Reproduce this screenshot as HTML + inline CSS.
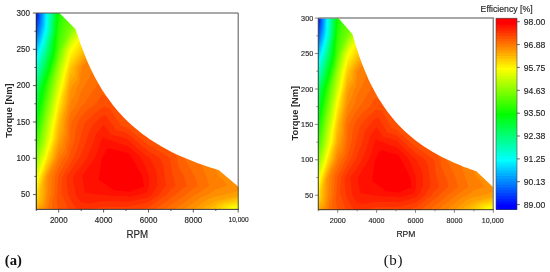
<!DOCTYPE html>
<html><head><meta charset="utf-8"><title>Efficiency maps</title>
<style>html,body{margin:0;padding:0;background:#fff}svg{display:block}</style></head>
<body>
<svg width="550" height="272" viewBox="0 0 550 272">
<rect width="550" height="272" fill="#fff"/>
<g>
<rect x="36.3" y="13.0" width="201.9" height="196.1" fill="#0010ff"/>
<path fill="#0020ff" fill-rule="evenodd" d="M36.3 209.1 238.2 209.1 238.2 13.0 37.1 13.0 36.8 15.0 36.3 16.8Z"/>
<path fill="#0030ff" fill-rule="evenodd" d="M36.3 209.1 238.2 209.1 238.2 13.0 37.7 13.0 37.4 16.0 36.3 20.7Z"/>
<path fill="#0040ff" fill-rule="evenodd" d="M36.3 209.1 238.2 209.1 238.2 13.0 38.4 13.0 38.1 17.0 36.3 24.6Z"/>
<path fill="#0050ff" fill-rule="evenodd" d="M36.3 209.1 238.2 209.1 238.2 13.0 39.1 13.0 38.8 17.5 36.3 28.6Z"/>
<path fill="#0060ff" fill-rule="evenodd" d="M36.3 209.1 238.2 209.1 238.2 13.0 39.7 13.0 39.3 19.0 36.8 30.8 36.3 32.1Z"/>
<path fill="#0070ff" fill-rule="evenodd" d="M36.3 209.1 238.2 209.1 238.2 13.0 40.4 13.0 39.9 20.0 37.5 31.5 36.3 34.6Z"/>
<path fill="#0080ff" fill-rule="evenodd" d="M36.3 209.1 238.2 209.1 238.2 13.0 41.1 13.0 40.5 21.0 38.2 32.0 37.3 34.8 36.3 37.2Z"/>
<path fill="#008fff" fill-rule="evenodd" d="M36.3 209.1 238.2 209.1 238.2 13.0 41.8 13.0 41.4 20.5 41.1 22.5 38.5 34.0 36.3 39.7Z"/>
<path fill="#009fff" fill-rule="evenodd" d="M36.3 209.1 238.2 209.1 238.2 13.0 42.4 13.0 42 21.5 41.7 23.5 40.1 31.0 39 35.0 36.3 42.3Z"/>
<path fill="#00afff" fill-rule="evenodd" d="M36.3 209.1 238.2 209.1 238.2 13.0 43.1 13.0 42.5 23.0 41 30.5 39.5 36.5 36.3 44.8Z"/>
<path fill="#00bfff" fill-rule="evenodd" d="M36.3 209.1 238.2 209.1 238.2 13.0 43.8 13.0 43.2 24.0 41.8 30.5 40 37.5 36.3 47.4Z"/>
<path fill="#00cfff" fill-rule="evenodd" d="M36.3 209.1 238.2 209.1 238.2 13.0 44.4 13.0 43.8 24.9 42.7 30.5 40.6 38.5 36.3 50.0Z"/>
<path fill="#00dfff" fill-rule="evenodd" d="M36.3 209.1 238.2 209.1 238.2 13.0 45.1 13.0 44.4 26.0 43.4 31.0 41.2 39.5 36.3 52.9Z"/>
<path fill="#00efff" fill-rule="evenodd" d="M36.3 209.1 238.2 209.1 238.2 13.0 45.8 13.0 45.1 26.5 44.2 31.0 41.8 40.3 36.3 55.7Z"/>
<path fill="#00ffff" fill-rule="evenodd" d="M36.3 209.1 238.2 209.1 238.2 13.0 46.5 13.0 45.7 27.5 45.1 31.0 42.3 41.5 36.3 58.5Z"/>
<path fill="#00ffef" fill-rule="evenodd" d="M36.3 209.1 238.2 209.1 238.2 13.0 47.1 13.0 46.3 28.5 45.9 31.0 43 42.0 36.3 61.4Z"/>
<path fill="#00ffdf" fill-rule="evenodd" d="M36.3 209.1 238.2 209.1 238.2 13.0 47.8 13.0 47 29.0 46.7 31.0 43.6 43.0 36.3 64.2Z"/>
<path fill="#00ffcf" fill-rule="evenodd" d="M36.3 209.1 238.2 209.1 238.2 13.0 48.5 13.0 47.6 30.0 47.3 32.0 44.2 44.0 36.3 67.1Z"/>
<path fill="#00ffbf" fill-rule="evenodd" d="M36.3 209.1 238.2 209.1 238.2 13.0 49.2 13.0 48.2 30.5 47.8 33.0 44.8 44.8 36.9 68.5 36.3 69.9Z"/>
<path fill="#00ffaf" fill-rule="evenodd" d="M36.3 209.1 238.2 209.1 238.2 13.0 49.9 13.0 48.9 31.0 47.8 36.2 45.3 46.0 37.6 69.5 36.3 72.8Z"/>
<path fill="#00ff9f" fill-rule="evenodd" d="M36.3 209.1 238.2 209.1 238.2 13.0 50.5 13.0 49.5 31.0 47.8 39.4 45.9 47.0 42.4 57.5 38.3 70.5 36.3 75.6Z"/>
<path fill="#00ff8f" fill-rule="evenodd" d="M36.3 209.1 238.2 209.1 238.2 13.0 51.2 13.0 50.2 31.0 47.8 42.6 46.6 47.5 39.2 71.0 36.3 78.5Z"/>
<path fill="#00ff80" fill-rule="evenodd" d="M36.3 209.1 238.2 209.1 238.2 13.0 51.9 13.0 50.9 31.0 47.8 45.8 47 49.0 39.7 72.5 36.3 81.3Z"/>
<path fill="#00ff70" fill-rule="evenodd" d="M36.3 209.1 238.2 209.1 238.2 13.0 52.6 13.0 51.5 31.0 47.7 49.5 40.3 73.7 36.3 84.1Z"/>
<path fill="#00ff60" fill-rule="evenodd" d="M36.3 209.1 238.2 209.1 238.2 13.0 53.3 13.0 52.2 31.0 49.2 45.5 48.5 50.0 41 74.5 37.2 85.0 36.3 88.0Z"/>
<path fill="#00ff50" fill-rule="evenodd" d="M36.3 209.1 238.2 209.1 238.2 13.0 54 13.0 52.9 31.0 50.1 44.5 49.2 50.5 47.3 57.4 41.7 75.5 38 85.5 36.3 93.1Z"/>
<path fill="#00ff40" fill-rule="evenodd" d="M36.3 209.1 238.2 209.1 238.2 13.0 54.7 13.0 53.6 31.0 51 43.5 50.2 50.0 49.5 53.0 42.5 76.0 39.1 85.5 36.3 98.2Z"/>
<path fill="#00ff30" fill-rule="evenodd" d="M36.3 209.1 238.2 209.1 238.2 13.0 55.3 13.0 54.2 31.0 52 42.0 51 50.0 50.1 54.0 46.8 65.4 42.9 78.0 40.1 85.5 36.3 103.4Z"/>
<path fill="#00ff20" fill-rule="evenodd" d="M36.3 209.1 238.2 209.1 238.2 13.0 56 13.0 54.9 31.0 53 40.5 51.9 50.0 50.8 55.0 47.3 67.0 43.6 79.0 41.2 85.5 36.3 108.5Z"/>
<path fill="#00ff10" fill-rule="evenodd" d="M36.3 209.1 238.2 209.1 238.2 13.0 56.7 13.0 55.6 31.0 54 39.0 52.8 50.0 51.4 56.0 47.8 68.5 44.3 79.9 42.1 86.0 36.8 111.8 36.3 113.6Z"/>
<path fill="#00ff00" fill-rule="evenodd" d="M36.3 209.1 238.2 209.1 238.2 13.0 57.4 13.0 56.2 31.0 54.9 38.0 53.6 50.0 51.8 58.0 46.8 75.0 43.2 86.0 37.3 114.5 36.3 118.7Z"/>
<path fill="#10ff00" fill-rule="evenodd" d="M36.3 209.1 238.2 209.1 238.2 13.0 58.1 13.0 56.9 31.0 55.9 36.5 54.6 49.5 52.6 58.5 47.3 76.6 44.2 86.0 37.3 119.6 36.3 123.8Z"/>
<path fill="#20ff00" fill-rule="evenodd" d="M36.3 209.1 238.2 209.1 238.2 13.0 67.8 13.0 66.8 15.3 66.3 15.5 65.7 15.5 60.8 13.3 59.8 13.0 59.3 13.1 58.8 14.9 57.6 31.0 56.9 35.0 55.4 49.5 53.2 59.5 47.8 78.1 45.3 86.0 37.3 124.8 36.3 128.9Z"/>
<path fill="#30ff00" fill-rule="evenodd" d="M36.3 209.1 238.2 209.1 238.2 13.0 68.5 13.0 66.8 16.5 62.8 15.2 61.8 15.2 61.2 15.5 60.8 16.0 60.3 17.4 59.3 21.8 58.8 25.1 56.2 50.0 53.8 60.5 46.3 86.0 37.3 129.9 36.3 134.0Z"/>
<path fill="#40ff00" fill-rule="evenodd" d="M36.3 209.1 238.2 209.1 238.2 13.0 68.8 13.0 67.5 15.5 67.3 16.6 66.8 17.0 64.8 16.8 64.3 17.0 62.8 18.5 62.2 19.5 59.3 31.8 58.3 38.3 57 50.0 54.6 61.0 47.4 86.0 37.3 135.0 36.3 139.1Z"/>
<path fill="#50ff00" fill-rule="evenodd" d="M36.3 209.1 238.2 209.1 238.2 13.0 69 13.0 67.7 15.5 67.4 17.5 67.7 18.0 67.4 18.5 64.4 21.5 64.1 22.0 61.9 31.0 59.3 40.3 58.8 42.8 58 49.5 55.5 61.0 48.8 84.5 37.4 140.1 36.3 143.1Z"/>
<path fill="#60ff00" fill-rule="evenodd" d="M36.3 209.1 238.2 209.1 238.2 13.0 69.2 13.0 67.8 16.0 67.8 17.0 69.9 18.5 70.8 19.5 66.3 24.2 65.8 25.0 64.1 32.0 60.2 45.5 58.9 49.5 55.9 63.0 50.7 81.0 46.8 99.1 38.5 140.1 37.5 143.6 36.3 146.8Z"/>
<path fill="#70ff00" fill-rule="evenodd" d="M36.3 209.1 238.2 209.1 238.2 13.0 69.7 13.0 68.3 15.8 68.3 16.7 71.3 18.5 72.8 19.1 74 20.0 74.3 20.5 74.1 21.0 67.7 27.5 64.3 39.6 60 49.5 58.8 53.9 56.5 64.0 52.3 79.0 46.8 104.2 41.2 131.6 39.6 140.1 38.4 144.6 36.3 150.4Z"/>
<path fill="#80ff00" fill-rule="evenodd" d="M36.3 209.1 238.2 209.1 238.2 13.0 128.2 13.0 125.8 13.7 125.2 14.0 123.8 14.2 121.7 15.0 120.8 15.2 120.2 15.5 119.3 15.7 118.7 16.0 117.8 16.2 117.2 16.5 116.3 16.7 115.7 17.0 114.8 17.2 114.2 17.5 113.3 17.7 112.7 18.0 111.3 18.2 109.2 19.0 108.3 19.2 107.7 19.5 106.8 19.7 106.2 20.0 105.3 20.2 104.7 20.5 103.8 20.7 103.2 21.0 102.3 21.2 101.7 21.5 100.8 21.7 100.2 22.0 98.8 22.2 96.7 23.0 95.8 23.2 95.2 23.5 94.3 23.7 93.7 24.0 92.8 24.2 92.2 24.5 91.3 24.7 90.7 25.0 89.8 25.2 89.2 25.5 87.8 25.7 87.2 26.0 86.3 26.2 85.7 26.5 82.3 27.5 76.8 22.8 76.3 22.5 75.8 22.5 69.4 30.5 67.3 36.0 61.1 49.5 58.8 57.8 57.1 65.0 54 76.5 46.8 109.3 42.6 129.6 40.7 140.1 39.3 145.6 36.3 154.1Z"/>
<path fill="#8fff00" fill-rule="evenodd" d="M36.3 209.1 238.2 209.1 238.2 13.0 128.6 13.0 124.8 14.3 123.8 14.4 112.8 18.2 111.3 18.5 100.3 22.2 98.8 22.5 89.3 25.7 87.8 26.0 83.2 27.5 82.6 28.0 82.5 28.5 82.3 28.7 77.3 24.5 76.8 24.2 76.3 24.3 69.8 33.2 62.3 49.5 61.3 53.5 58.8 61.7 55.8 73.5 46.8 114.4 44.2 127.1 41.7 140.6 40 147.1 36.3 157.7Z"/>
<path fill="#9fff00" fill-rule="evenodd" d="M36.3 209.1 238.2 209.1 238.2 13.0 129.2 13.0 124.8 14.5 123.8 14.6 112.3 18.5 111.3 18.6 99.8 22.5 98.8 22.6 88.8 26.0 87.8 26.1 83.3 27.7 82.9 28.0 83 28.5 89.3 35.0 90.5 36.5 90.3 36.8 78.3 26.6 77.3 26.0 76.8 26.1 69.8 35.7 63.4 49.5 62 55.0 59.3 63.9 57.4 71.0 46.8 119.5 42.9 140.6 40.8 148.3 37.4 158.6 36.3 161.0ZM90.6 37.0 90.8 36.8 90.9 37.0 90.8 37.2Z"/>
<path fill="#afff00" fill-rule="evenodd" d="M36.3 209.1 238.2 209.1 238.2 13.0 129.5 13.0 125.3 14.5 123.8 14.7 112.8 18.5 111.3 18.7 100.3 22.5 98.8 22.7 89.3 26.0 87.8 26.2 84.8 27.2 83.1 28.0 83.7 29.0 94.3 39.9 98.4 44.5 98.3 44.9 78.8 28.3 77.8 27.7 77.3 27.9 69.8 38.1 64.5 49.5 62.8 56.5 59.4 67.5 51.5 103.1 50.4 109.1 47.3 122.1 44 140.6 41.6 149.6 38 160.1 36.3 164.2ZM98.5 45.0 98.9 45.0 98.8 45.2Z"/>
<path fill="#bfff00" fill-rule="evenodd" d="M36.3 209.1 238.2 209.1 238.2 13.0 129.8 13.0 125.3 14.6 123.8 14.8 112.8 18.6 111.3 18.8 100.3 22.6 98.8 22.8 89.3 26.1 87.8 26.3 83.3 28.0 83.4 28.5 103.3 49.0 106.4 52.5 106.3 53.0 79.3 30.0 78.3 29.5 77.8 29.8 70.3 39.7 69.3 41.5 65.6 49.5 63.7 57.5 60.6 67.5 58.3 77.4 52.5 103.6 51.3 110.3 48.5 122.1 45.1 140.6 42.3 151.1 38.7 161.6 36.3 167.4ZM107 53.5 107.3 53.5 107.3 53.8ZM106.3 53.0 106.8 52.9 106.9 53.0 106.8 53.4Z"/>
<path fill="#cfff00" fill-rule="evenodd" d="M36.3 209.1 238.2 209.1 238.2 13.0 129.9 13.0 125.3 14.7 123.8 14.9 112.8 18.7 111.3 18.9 100.3 22.7 98.8 23.0 89.3 26.2 87.8 26.5 84.8 27.5 83.5 28.0 83.6 28.5 110.8 56.5 111.8 57.3 112.3 57.5 115.3 60.5 118.4 64.0 118.3 64.5 79.8 31.7 78.8 31.2 78.3 31.6 70.3 42.1 66.8 49.5 64.6 58.5 61.8 67.5 58.3 82.5 53.6 103.6 52.2 111.6 49.7 122.1 46.3 140.6 42.8 153.1 39.4 163.1 36.3 170.6ZM119 65.0 119.3 65.0 119.3 65.3ZM118.3 64.5 118.8 64.4 118.8 64.9Z"/>
<path fill="#dfff00" fill-rule="evenodd" d="M36.3 209.1 238.2 209.1 238.2 13.0 130.1 13.0 129.8 13.3 125.3 14.9 124 15.0 112.8 18.9 111.5 19.0 100.3 22.9 99 23.0 89.3 26.4 88 26.5 83.8 28.0 83.8 28.5 94.3 39.2 95.8 41.0 111 56.5 112.8 57.8 123.3 68.5 127.4 73.0 127.3 73.4 79.8 33.1 79.3 33.0 78.8 33.4 70.3 44.6 67.9 49.5 65.3 60.0 62.8 68.5 58.8 85.4 54.8 103.6 53.2 112.6 50.9 122.1 47.4 140.6 44.2 152.6 39.9 165.1 36.3 173.8ZM128.1 74.0 128.3 74.0 128.3 74.2ZM127.4 73.5 127.9 73.5 127.8 73.8Z"/>
<path fill="#efff00" fill-rule="evenodd" d="M36.3 209.1 238.2 209.1 238.2 13.0 130.2 13.0 129.8 13.5 125.3 15.0 124.3 15.1 112.8 19.0 111.8 19.1 100.3 23.0 99.3 23.1 84.2 28.0 84 28.5 94.3 39.0 95.4 40.5 111.1 56.5 112.8 57.6 131.8 77.0 135.9 81.5 135.7 82.0 80.8 35.1 80.3 34.8 79.8 34.8 79.3 35.3 70.3 47.0 69 49.5 66.2 61.0 64.1 68.0 58.3 92.7 55.9 103.6 53.9 114.6 52 122.6 48.9 140.1 44.9 154.1 40.8 165.9 36.3 177.3ZM136.5 82.5 136.8 82.5 136.7 82.7ZM135.9 82.0 136.2 81.9 136.4 82.0 136.2 82.3Z"/>
<path fill="#ffff00" fill-rule="evenodd" d="M36.3 209.1 234.1 209.1 234.5 208.6 235.4 208.1 238.2 207.5 238.2 13.0 130.4 13.0 129.8 13.7 125.3 15.2 123.8 15.4 112.8 19.2 111.3 19.4 100.3 23.2 98.8 23.4 89.3 26.7 87.8 26.9 84.6 28.0 84.2 28.5 94.6 39.0 95.6 40.5 111.3 56.5 112.8 57.5 141.2 86.5 144.9 90.6 144.7 90.9 81.8 37.3 80.8 36.5 80.3 36.6 71.8 47.5 70.3 49.9 69.8 51.2 67 62.5 65.3 68.0 61.4 85.5 57.2 102.6 54.9 115.6 53.4 122.1 51.3 132.9 50.2 140.1 47.8 147.8 45.3 156.6 41.8 166.6 38 176.1 36.3 182.4ZM145 91.1 145.3 91.1 145.2 91.3Z"/>
<path fill="#ffef00" fill-rule="evenodd" d="M36.3 209.1 229.3 209.1 231.9 207.1 238.2 205.6 238.2 13.0 130.7 13.0 130.6 13.5 130.3 13.9 128.8 14.4 128 14.5 125.8 15.4 123 16.0 113.3 19.4 110.5 20.0 100.8 23.4 98 24.0 89.8 26.9 87.1 27.5 86.3 27.9 85.3 28.1 84.8 28.5 95.1 39.0 95.3 40.0 104.4 49.5 111.3 56.4 112.9 57.5 148.7 94.0 150.7 95.4 157.4 102.6 157.2 102.8 82.3 39.0 81.3 38.3 80.8 38.4 78.9 41.0 70.3 54.6 69.8 55.9 66.7 67.5 64.7 76.0 62.7 85.5 58.2 103.6 55.8 116.8 54.6 122.1 53 130.6 51.6 140.1 46 158.1 42.5 168.1 39.1 176.6 36.3 187.5ZM157.5 103.1 157.8 103.1 157.7 103.2Z"/>
<path fill="#ffdf00" fill-rule="evenodd" d="M36.3 209.1 224.6 209.1 227.7 206.6 228.7 206.0 238.2 203.7 238.2 13.0 166.1 13.0 160.7 14.9 159.2 15.7 156.7 16.4 155.2 17.2 152.7 17.9 151.2 18.7 148.7 19.4 147.2 20.2 143.2 21.4 141.7 22.2 139.2 22.9 133.8 25.2 127.3 27.4 125.8 28.2 121.8 29.4 120.3 30.2 113.8 32.4 112.3 33.2 109.8 33.9 104.3 36.2 101.8 36.9 100.3 37.7 96.3 39.0 95.5 39.5 95.5 40.0 95.8 40.5 111.3 56.3 113 57.5 149 94.1 150.2 94.8 163.7 108.6 165.9 111.1 165.7 111.3 94.8 51.0 82.8 41.1 82.3 40.8 81.8 41.0 80.8 42.9 77.1 49.0 70.8 58.4 69.8 60.5 66.8 72.1 64 85.5 60.3 100.1 58.8 106.6 54.7 128.1 53 140.1 47.1 158.6 43.3 169.2 40.4 176.6 36.3 192.6ZM166 111.6 166.2 111.4 166.3 111.6 166.2 111.7Z"/>
<path fill="#ffcf00" fill-rule="evenodd" d="M36.3 209.1 219.9 209.1 225.2 205.0 238.2 201.9 238.2 13.0 167 13.0 164.7 13.7 163.2 14.5 160.7 15.2 159.2 16.0 156.7 16.7 155.2 17.5 152.7 18.2 151.2 19.0 148.7 19.7 147.2 20.5 143.2 21.7 141.7 22.5 139.2 23.2 137.7 24.0 135.2 24.7 133.8 25.5 131.3 26.2 129.8 27.0 127.3 27.7 125.8 28.5 121.8 29.7 120.3 30.5 117.8 31.2 116.3 32.0 113.8 32.7 112.3 33.5 109.8 34.2 108.3 35.0 105.8 35.7 104.3 36.5 101.8 37.2 100.3 38.0 96.3 39.2 95.8 39.6 95.6 40.0 96 40.5 103.4 48.0 104.6 49.5 111.3 56.2 113.1 57.5 149.2 94.1 150.7 95.1 172.7 117.6 174.9 120.1 174.7 120.3 116.7 71.0 84.3 44.1 83.3 43.4 82.8 43.5 81.3 47.1 80.3 49.0 70.3 63.9 69.1 67.5 65.3 85.5 62.1 98.1 61.2 104.1 58.8 113.0 56.3 126.1 54.3 140.1 50.2 153.1 48.8 158.1 47.3 161.4 41.7 176.6 38.2 190.6 37.5 195.6 37.1 196.6 36.3 197.4ZM175.1 120.6 175.2 120.4 175.3 120.6Z"/>
<path fill="#ffbf00" fill-rule="evenodd" d="M36.3 209.1 215 209.1 221.2 204.4 222.2 203.8 238.2 199.8 238.2 13.0 167.4 13.0 165.7 13.8 164.7 14.0 163.2 14.8 160.7 15.5 159.2 16.3 156.7 17.0 155.2 17.8 152.7 18.5 151.2 19.3 148.7 20.0 147.2 20.8 143.2 22.0 141.7 22.8 139.2 23.5 137.7 24.3 135.2 25.0 133.8 25.8 131.3 26.5 129.8 27.3 127.3 28.0 125.8 28.8 121.8 30.0 120.3 30.8 117.8 31.5 116.3 32.3 113.8 33.0 112.3 33.8 109.8 34.5 108.3 35.3 105.8 36.0 104.3 36.8 101.8 37.5 100.3 38.3 96.3 39.5 95.8 40.0 103.6 48.0 104.7 49.5 111.2 56.0 112.8 57.1 148.8 93.6 150.7 94.9 182.7 127.6 183.5 128.6 183.2 128.8 133.3 86.6 85.3 46.7 84.3 46.0 83.8 46.1 82.7 48.5 81.9 51.0 80.3 53.2 71 67.0 69.8 70.5 66.6 85.5 64.3 94.8 62.9 104.1 59.3 117.3 58.2 122.1 55.7 140.1 52.4 150.6 50.5 158.1 47.3 164.8 42.9 176.6 40.1 188.1 39.7 194.6 39.2 197.6 38.8 198.7 36.3 201.5ZM188.7 133.4 187.7 132.6 188.2 132.6 188.7 133.1ZM183.5 129.1 183.7 128.8 183.9 129.1 183.7 129.2Z"/>
<path fill="#ffaf00" fill-rule="evenodd" d="M36.3 209.1 207.9 209.1 215.2 205.2 218.1 203.1 219.2 202.6 238.2 197.8 238.2 13.0 167.7 13.0 167.2 13.5 164.7 14.3 163.2 15.0 148.7 20.3 147.2 21.0 143.2 22.3 141.7 23.0 131.3 26.8 125.8 29.0 121.8 30.3 120.3 31.0 117.8 31.8 116.3 32.5 113.8 33.3 112.3 34.1 109.8 34.8 108.3 35.6 105.8 36.3 104.3 37.1 96.2 40.0 96.4 40.5 103.8 48.0 105.3 49.9 111.4 56.0 113.3 57.4 149.2 93.8 151 95.1 186.9 131.6 188.7 132.6 197.2 141.6 197.2 141.9 195.7 140.8 164.7 114.5 86.8 49.7 85.3 48.6 84.8 48.7 84.2 50.0 83.7 53.0 80.8 56.4 73.7 67.0 73.3 68.0 72.8 72.1 70.3 75.6 69.8 76.9 66.5 91.6 64.7 104.1 60.2 121.1 59.8 124.1 58.8 128.2 57.1 140.1 55.2 146.1 52.2 158.1 47.8 167.0 44.2 176.6 42.1 185.6 41.6 194.6 40.8 200.1 40.2 201.1 36.3 205.5Z"/>
<path fill="#ff9f00" fill-rule="evenodd" d="M37 209.1 200.9 209.1 215.7 201.1 222.8 199.6 238.2 195.8 238.2 13.0 187 13.0 185 14.0 184.2 14.1 181.5 15.5 180.7 15.6 179 16.5 178.2 16.6 175.5 18.0 174.7 18.1 172 19.5 171.2 19.6 169.5 20.5 168.7 20.6 166 22.0 165.2 22.1 162.5 23.5 161.7 23.6 160 24.5 159.2 24.6 153 27.5 152.2 27.6 149.5 29.0 148.7 29.1 147 30.0 146.2 30.1 140 33.0 139.2 33.1 137.5 34.0 136.7 34.1 130.5 37.0 129.8 37.1 128 38.0 127.3 38.1 121 41.0 120.3 41.1 118.6 42.0 117.8 42.1 111.6 45.0 110.8 45.1 108.1 46.5 107.3 46.6 105.6 47.5 104.8 47.6 104.4 48.0 104.3 48.5 104.8 49.2 111.3 55.8 113.3 57.3 149.1 93.6 151.1 95.1 187.2 131.5 188.2 132.0 201.2 145.1 205.8 150.1 205.7 150.6 131.3 88.5 93.8 57.9 87.3 52.2 86.3 51.6 85.9 52.0 85.6 54.5 85.3 55.4 81.3 59.7 76.3 67.0 75.9 68.0 75.3 74.5 74.9 76.0 70.8 81.2 70.3 81.9 69.8 83.3 68.6 88.5 66.5 103.6 63.8 113.8 62.2 121.6 61.7 127.6 59.3 136.2 58.5 140.1 54 157.6 53.4 159.1 47.3 171.6 45.5 176.6 44.6 180.1 44.1 183.1 43.6 194.6 42.5 202.1 42 203.1ZM205.8 150.6 206.2 150.6 206.2 150.8Z"/>
<path fill="#ff8f00" fill-rule="evenodd" d="M40.5 209.1 193.8 209.1 207.2 200.0 208.8 199.1 215.7 196.5 225.9 194.6 238.2 190.9 238.2 13.0 188.6 13.0 187.7 13.2 185.2 14.5 184.2 14.8 181.7 16.0 180.7 16.3 179.2 17.0 178.2 17.3 175.7 18.5 174.7 18.8 172.2 20.0 171.2 20.3 169.7 21.0 168.7 21.3 162.7 24.0 161.7 24.3 160.2 25.0 159.2 25.3 153.2 28.0 152.2 28.3 149.7 29.5 148.7 29.8 147.2 30.6 146.2 30.8 140.2 33.6 139.2 33.8 137.7 34.6 136.7 34.8 130.8 37.6 129.8 37.8 128.3 38.6 127.3 38.8 121.3 41.6 120.3 41.8 118.8 42.6 117.8 42.8 115.3 44.1 114.3 44.3 111.8 45.6 110.8 45.8 108.3 47.1 107.3 47.3 105.8 48.1 104.8 48.3 104.6 48.5 104.7 49.0 111.7 56.0 113.3 57.1 149.2 93.6 151.2 95.1 187.2 131.3 188.2 131.8 189.1 132.6 200.6 144.1 213.2 157.2 214.5 158.1 217.1 161.1 216.7 161.3 196.8 145.1 186.7 137.1 117.8 83.4 110.8 77.1 88.8 55.9 87.8 55.3 87 57.5 81.3 63.6 78.7 67.5 77.3 79.4 72.5 85.5 70.3 91.0 69.8 93.1 68.3 103.6 66.7 109.6 64.3 121.6 63.8 129.6 63.6 131.1 60.5 142.6 58.8 145.8 55.5 158.1 48.3 172.8 46.7 176.6 46.2 179.6 45.6 194.6 44.2 204.1 43.8 205.1ZM229.6 173.1 229.7 172.9 229.8 173.1ZM229.5 172.6 229.2 172.8 226.2 170.2 225.9 169.6 226.2 169.3 226.8 169.6ZM217.2 161.7 217.2 161.4 217.3 161.6Z"/>
<path fill="#ff8000" fill-rule="evenodd" d="M82.3 66.5 81.7 67.5 81.3 68.9 79.5 83.0 77.5 86.0 74.9 94.1 70.8 102.5 69.8 105.2 66.3 122.1 65.7 133.6 63.9 140.1 62.7 146.1 58.8 152.5 57 158.6 51.8 169.3 48.9 176.1 48.7 177.6 47.7 194.6 45.8 206.6 44 209.1 184.4 209.1 201.2 197.5 208.3 194.6 215.7 189.8 227 186.1 227.5 185.6 227 184.6 223 179.6 217.7 174.9 214.6 166.6 213.6 165.1 142.7 109.8 133.3 101.0 90.3 59.6 89.3 59.0ZM214.2 156.7 214.6 156.1 225.1 124.6 226.1 120.6 226.4 120.1 226.6 118.6 227.4 116.6 227.6 115.1 228.4 113.1 228.6 111.6 229.4 109.6 229.6 108.1 230.4 106.1 230.6 104.6 231.4 102.6 231.6 101.1 232.4 99.1 233.1 95.6 233.9 93.6 234.1 92.1 234.9 90.1 235.1 88.5 235.9 86.5 236.1 85.0 236.9 83.0 237.1 81.5 237.9 79.5 238.2 78.0 238.2 13.0 189.1 13.0 188.7 13.4 184.2 15.2 181.7 16.4 178.2 17.7 172.2 20.5 168.7 21.7 162.7 24.5 159.2 25.7 153.2 28.5 152.2 28.7 149.7 30.0 146.2 31.2 140.2 34.0 136.7 35.2 130.8 38.0 127.3 39.2 121.3 42.0 117.8 43.3 108.3 47.5 105.3 48.6 105.1 49.0 111.8 55.8 113.3 56.8 116 59.5 117.3 61.2 149.2 93.4 151.2 94.9 187.2 131.1 188.9 132.1 199.2 142.6 201 144.1 213.2 156.5 213.7 156.9Z"/>
<path fill="#ff7000" fill-rule="evenodd" d="M92.4 66.5 90.8 73.5 90.3 75.0 85.6 84.5 81.3 91.1 78.3 100.1 76.3 104.1 70.8 113.0 69.8 115.4 68.4 122.1 67.7 136.6 66.7 140.6 64.8 149.6 64.4 150.6 58.8 159.2 51.9 176.6 50.7 194.6 47.5 209.1 174.9 209.1 194.2 195.6 197 194.1 209 186.1 209.3 185.6 209.3 185.1 206.1 176.1 201.2 164.5 199.5 161.6 198.6 160.6 171.2 139.1 166.2 134.9 128.8 99.1 112.3 83.6 93.8 66.8 92.8 66.1ZM200.2 142.9 200.7 142.6 201 142.1 238.2 49.1 238.2 13.0 208.7 13.0 199.2 17.8 197.3 19.0 174.7 30.3 172.8 31.5 150.2 42.8 148.3 44.0 125.8 55.3 123.8 56.5 117 60.0 117 60.5 117.8 61.5 149.2 93.2 151.2 94.7 187.7 131.2 188.7 131.6 199.2 142.2Z"/>
<path fill="#ff6000" fill-rule="evenodd" d="M52.6 209.1 165.1 209.1 185.2 195.1 188.7 192.1 197.3 186.1 197.6 185.6 197.6 185.1 194.2 175.6 184.6 158.6 183.5 155.6 151.7 127.3 101.8 81.8 100.3 80.7 99.8 80.9 98.8 82.5 84.6 103.1 82 105.6 80.8 107.0 71.6 122.1 71.1 124.1 69.8 139.6 67 153.1 66.5 154.1 63.5 158.6 58.8 167.1 55.1 176.6 53.9 194.6 52 203.6ZM118 61.0 130.4 73.5 131.9 75.5 149.3 93.1 151.2 94.5 187.7 130.8 188.2 130.9 188.5 130.6 194 119.6 194.3 118.6 200.5 106.1 200.7 105.1 207 92.6 207.2 91.6 213.5 79.0 213.7 78.0 220 65.5 220.2 64.5 226.5 52.0 226.7 51.1 233.5 37.5 233.7 36.5 238.2 27.7 238.2 13.0 210 13.0 209.2 13.9 199.8 18.5 197.7 19.9 175.3 31.0 173.2 32.4 150.8 43.5 148.7 44.9 126.3 56.0 124.3 57.4 117.9 60.5Z"/>
<path fill="#ff5000" fill-rule="evenodd" d="M57.8 209.1 155.3 209.1 176 194.6 181.2 189.7 186.2 186.1 186.4 185.6 186.4 185.1 183.7 176.1 178.3 166.1 177 157.6 176.7 157.0 171.2 152.4 168 150.1 154.2 142.1 153.1 141.1 150.2 137.0 141.7 130.6 127.7 119.1 119.3 109.4 112.8 100.6 102.8 94.7 102.3 94.7 95.9 103.6 87.5 110.1 81.3 116.6 77.9 122.1 75.6 131.1 74.5 140.6 73.1 145.1 70.3 152.2 69.2 156.6 59.3 174.1 58.2 176.6 57.1 194.1 56.5 198.1Z"/>
<path fill="#ff4000" fill-rule="evenodd" d="M67.4 209.1 141.1 209.1 147.2 207.7 148.7 207.2 167.2 194.6 168.2 193.1 170.7 190.3 175.3 186.1 175.6 185.6 173.5 177.1 172.3 174.1 170.2 160.1 169.8 158.6 168.7 157.6 161.7 152.6 148.2 145.0 141.8 139.6 126.3 127.3 121.3 125.7 118.6 122.1 109.8 108.5 108.8 108.0 103.8 106.8 103.3 106.9 93.5 114.1 86.2 121.6 84.2 124.1 81.3 133.8 79.6 141.1 76.7 150.6 74 157.1 73.3 158.6 69.8 163.5 62.5 176.6 61.3 190.1 61.7 194.1 62 195.1 65.9 203.6Z"/>
<path fill="#ff3000" fill-rule="evenodd" d="M77.3 209.1 92.6 209.1 94.4 208.6 103.8 206.8 126.8 207.0 143.6 203.6 148.7 202.1 159 195.1 160 194.1 161.7 190.9 165.5 186.6 166.1 185.6 164.9 179.1 164.8 176.1 163.1 165.1 162.7 164.0 160 158.6 158.9 157.6 155.3 155.1 148.2 151.1 141.2 145.4 135.3 140.1 126.3 133.0 125.3 132.6 115.9 130.1 110.7 122.6 106.3 116.0 105.8 115.7 104.3 115.3 103.3 115.4 99.3 118.3 95.6 122.1 90.3 128.7 89.8 129.7 86.9 139.6 85.7 143.1 81.3 153.0 79.4 158.1 70.3 170.8 67 176.6 66.6 182.6 68.1 194.6 70.3 199.3 73.3 204.4Z"/>
<path fill="#ff2000" fill-rule="evenodd" d="M148.7 197.0 152.1 194.6 155.3 188.6 157 186.6 157.5 185.6 157 182.1 156.9 176.1 156.1 170.6 150.1 158.6 137.1 148.1 128.7 140.6 126.3 138.6 125.3 138.2 110.8 134.5 109.9 133.6 104.3 125.4 103.8 124.9 103.3 124.9 95.9 134.1 94.1 140.1 91 148.6 86.4 158.6 81.3 165.9 73.6 175.6 73.1 176.6 73.6 182.6 75.4 194.1 75.8 195.1 77.8 198.6 81.3 202.3 89.3 203.7 103.8 201.0 108.8 201.5 125.8 201.4 127.3 201.9 128.3 201.9 138.7 199.8 147.7 197.4Z"/>
<path fill="#ff1000" fill-rule="evenodd" d="M146.7 192.2 147.2 191.6 149.1 185.6 149 176.1 144.5 164.6 142 160.1 139.8 156.6 138.8 155.6 127.3 145.8 125.8 145.2 119.3 143.6 111.4 140.6 105.8 139.0 105.1 138.6 103.8 137.1 103.3 137.1 102.3 138.2 101.8 139.1 96.6 153.6 94.3 158.6 82.7 175.1 82.3 176.1 82.2 177.1 84.6 192.1 85.8 192.7 101.8 195.1 104.3 195.1 111.8 196.0 125.8 195.9 128.8 196.9 134.7 195.8 142.2 193.8Z"/>
<path fill="#ff0000" fill-rule="evenodd" d="M143.7 186.7 143.7 185.3 143.5 184.6 143.2 182.1 142.9 180.6 142.7 177.1 133.8 161.1 128.9 153.6 128.3 153.2 125.3 152.3 109.8 148.5 108.5 148.6 106.8 149.8 103.4 155.6 102.1 158.1 101.6 159.6 98.9 178.6 98.9 180.1 113.8 189.9 115.3 190.5 129.8 191.8 132.8 190.4 142.8 187.1Z"/>
<path fill="#ff0000" fill-rule="evenodd" d="M127.8 183.8 128.6 183.1 133.9 177.1 133.9 176.6 129.9 169.6 126.6 167.1 126.2 166.6 126.4 165.6 128.8 160.1 128.6 159.1 127.4 157.1 126.8 156.5 121.3 155.1 119.3 155.0 112.7 158.1 111.6 159.1 109.3 162.0 104.3 172.2 103.8 174.3 103.6 176.6 104.3 177.2 105.3 177.4 117.5 178.6 118.3 179.2 120.8 183.1 122.3 183.4Z"/>
</g>
<path fill="#fff" d="M58.7 12.2 L75.6 29.3 L76.7 32.5 L80.3 43.4 L84.0 53.1 L87.6 61.9 L91.3 69.9 L94.9 77.2 L98.6 83.8 L102.2 89.9 L105.9 95.5 L109.6 100.6 L113.2 105.4 L116.9 109.9 L120.5 114.0 L124.2 117.9 L127.8 121.5 L131.5 124.9 L135.1 128.1 L138.8 131.1 L142.4 134.0 L146.1 136.6 L149.7 139.2 L153.4 141.6 L157.0 143.8 L160.7 146.0 L164.3 148.1 L168.0 150.0 L171.6 151.9 L175.3 153.7 L179.0 155.4 L182.6 157.0 L186.3 158.6 L189.9 160.1 L193.6 161.5 L197.2 162.9 L200.9 164.3 L204.5 165.5 L208.2 166.8 L211.8 167.9 L215.5 169.1 L219.1 170.2 L220.7 171.7 L239.0 187.3 L239.0 12.2 Z"/>
<g>
<rect x="318.3" y="18.1" width="175.0" height="191.3" fill="#0010ff"/>
<path fill="#0020ff" fill-rule="evenodd" d="M318.3 209.4 493.3 209.4 493.3 18.1 319 18.1 318.7 20.1 318.3 21.8Z"/>
<path fill="#0030ff" fill-rule="evenodd" d="M318.3 209.4 493.3 209.4 493.3 18.1 319.5 18.1 319.3 21.0 318.3 25.6Z"/>
<path fill="#0040ff" fill-rule="evenodd" d="M318.3 209.4 493.3 209.4 493.3 18.1 320.1 18.1 319.8 22.0 318.3 29.5Z"/>
<path fill="#0050ff" fill-rule="evenodd" d="M318.3 209.4 493.3 209.4 493.3 18.1 320.7 18.1 320.4 22.5 318.3 33.3Z"/>
<path fill="#0060ff" fill-rule="evenodd" d="M318.3 209.4 493.3 209.4 493.3 18.1 321.3 18.1 320.9 23.9 318.7 35.4 318.3 36.7Z"/>
<path fill="#0070ff" fill-rule="evenodd" d="M318.3 209.4 493.3 209.4 493.3 18.1 321.9 18.1 321.4 24.9 319.3 36.2 318.3 39.2Z"/>
<path fill="#0080ff" fill-rule="evenodd" d="M318.3 209.4 493.3 209.4 493.3 18.1 322.4 18.1 322 25.9 319.9 36.6 319.2 39.4 318.3 41.7Z"/>
<path fill="#008fff" fill-rule="evenodd" d="M318.3 209.4 493.3 209.4 493.3 18.1 323 18.1 322.7 25.4 322.4 27.4 320.2 38.6 318.3 44.2Z"/>
<path fill="#009fff" fill-rule="evenodd" d="M318.3 209.4 493.3 209.4 493.3 18.1 323.6 18.1 323.2 26.4 323 28.3 320.7 39.6 318.3 46.7Z"/>
<path fill="#00afff" fill-rule="evenodd" d="M318.3 209.4 493.3 209.4 493.3 18.1 324.2 18.1 323.7 27.9 322.4 35.2 321 41.0 318.3 49.2Z"/>
<path fill="#00bfff" fill-rule="evenodd" d="M318.3 209.4 493.3 209.4 493.3 18.1 324.8 18.1 324.3 28.8 323.1 35.2 321.5 42.0 318.3 51.7Z"/>
<path fill="#00cfff" fill-rule="evenodd" d="M318.3 209.4 493.3 209.4 493.3 18.1 325.4 18.1 324.8 29.7 323.8 35.2 322 43.0 318.3 54.2Z"/>
<path fill="#00dfff" fill-rule="evenodd" d="M318.3 209.4 493.3 209.4 493.3 18.1 325.9 18.1 325.3 30.8 324.5 35.7 322.5 44.0 318.3 57.0Z"/>
<path fill="#00efff" fill-rule="evenodd" d="M318.3 209.4 493.3 209.4 493.3 18.1 326.5 18.1 325.9 31.3 325.2 35.7 323.1 44.7 318.3 59.8Z"/>
<path fill="#00ffff" fill-rule="evenodd" d="M318.3 209.4 493.3 209.4 493.3 18.1 327.1 18.1 326.4 32.3 325.9 35.7 323.5 45.9 318.3 62.5Z"/>
<path fill="#00ffef" fill-rule="evenodd" d="M318.3 209.4 493.3 209.4 493.3 18.1 327.7 18.1 327 33.2 326.6 35.7 324.1 46.4 318.3 65.3Z"/>
<path fill="#00ffdf" fill-rule="evenodd" d="M318.3 209.4 493.3 209.4 493.3 18.1 328.3 18.1 327.3 35.7 324.6 47.4 318.3 68.1Z"/>
<path fill="#00ffcf" fill-rule="evenodd" d="M318.3 209.4 493.3 209.4 493.3 18.1 328.9 18.1 328.1 34.7 327.8 36.6 325.1 48.4 318.3 70.8Z"/>
<path fill="#00ffbf" fill-rule="evenodd" d="M318.3 209.4 493.3 209.4 493.3 18.1 329.5 18.1 328.6 35.2 328.3 37.6 325.7 49.1 318.9 72.3 318.3 73.6Z"/>
<path fill="#00ffaf" fill-rule="evenodd" d="M318.3 209.4 493.3 209.4 493.3 18.1 330.1 18.1 329.2 35.7 328.3 40.7 326.1 50.3 319.5 73.2 318.3 76.4Z"/>
<path fill="#00ff9f" fill-rule="evenodd" d="M318.3 209.4 493.3 209.4 493.3 18.1 330.6 18.1 329.8 35.7 328.3 43.8 326.6 51.3 320 74.2 318.3 79.2Z"/>
<path fill="#00ff8f" fill-rule="evenodd" d="M318.3 209.4 493.3 209.4 493.3 18.1 331.2 18.1 330.3 35.7 328.3 46.9 327.2 51.8 320.8 74.7 318.3 81.9Z"/>
<path fill="#00ff80" fill-rule="evenodd" d="M318.3 209.4 493.3 209.4 493.3 18.1 331.8 18.1 330.9 35.7 328.3 50.1 327.6 53.2 321.2 76.2 318.3 84.7Z"/>
<path fill="#00ff70" fill-rule="evenodd" d="M318.3 209.4 493.3 209.4 493.3 18.1 332.4 18.1 331.5 35.7 328.2 53.7 321.8 77.3 318.3 87.5Z"/>
<path fill="#00ff60" fill-rule="evenodd" d="M318.3 209.4 493.3 209.4 493.3 18.1 333 18.1 332.1 35.7 329.5 49.8 328.9 54.2 322.4 78.1 319 88.4 318.3 91.3Z"/>
<path fill="#00ff50" fill-rule="evenodd" d="M318.3 209.4 493.3 209.4 493.3 18.1 333.6 18.1 332.7 35.7 330.3 48.8 329.5 54.7 323 79.1 319.8 88.9 318.3 96.3Z"/>
<path fill="#00ff40" fill-rule="evenodd" d="M318.3 209.4 493.3 209.4 493.3 18.1 334.2 18.1 333.3 35.7 331 47.9 330.3 54.2 328.3 62.9 323.7 79.6 320.7 88.9 318.3 101.2Z"/>
<path fill="#00ff30" fill-rule="evenodd" d="M318.3 209.4 493.3 209.4 493.3 18.1 334.8 18.1 333.8 35.7 331.9 46.4 331.1 54.2 330.3 58.1 324 81.5 321.6 88.9 318.3 106.2Z"/>
<path fill="#00ff20" fill-rule="evenodd" d="M318.3 209.4 493.3 209.4 493.3 18.1 335.4 18.1 334.4 35.7 332.8 44.9 331.8 54.2 330.9 59.1 327.8 70.8 324.6 82.5 322.5 88.9 318.3 111.2Z"/>
<path fill="#00ff10" fill-rule="evenodd" d="M318.3 209.4 493.3 209.4 493.3 18.1 336 18.1 335 35.7 333.6 43.5 332.6 54.2 331.4 60.1 328.3 72.3 325.2 83.4 323.3 89.3 318.3 116.2Z"/>
<path fill="#00ff00" fill-rule="evenodd" d="M318.3 209.4 493.3 209.4 493.3 18.1 336.6 18.1 335.6 35.7 334.4 42.5 333.3 54.2 331.7 62.0 327.4 78.6 324.3 89.3 318.3 121.2Z"/>
<path fill="#10ff00" fill-rule="evenodd" d="M318.3 209.4 493.3 209.4 493.3 18.1 337.2 18.1 336.2 35.7 335.3 41.0 334.1 53.7 332.4 62.5 327.8 80.1 325.2 89.3 318.3 126.2Z"/>
<path fill="#20ff00" fill-rule="evenodd" d="M318.3 209.4 493.3 209.4 493.3 18.1 345.6 18.1 344.7 20.3 344.3 20.6 343.8 20.5 339.5 18.4 338.7 18.1 338.2 18.2 337.8 19.9 336.7 35.7 336.2 39.6 334.9 53.7 332.9 63.5 328.3 81.6 326.1 89.3 318.3 131.1Z"/>
<path fill="#30ff00" fill-rule="evenodd" d="M318.3 209.4 493.3 209.4 493.3 18.1 346.2 18.1 344.7 21.5 341.3 20.3 340.4 20.2 339.9 20.5 339.5 21.0 339.1 22.4 338.2 26.6 337.8 29.9 335.5 54.2 333.5 64.5 327 89.3 318.3 136.1Z"/>
<path fill="#40ff00" fill-rule="evenodd" d="M318.3 209.4 493.3 209.4 493.3 18.1 346.5 18.1 345.4 20.5 345.2 21.6 344.7 22.0 343 21.8 342.1 22.5 341.3 23.5 340.8 24.4 338.2 36.5 337.4 42.8 336.3 54.2 334.2 64.9 327.9 89.3 318.3 141.1Z"/>
<path fill="#50ff00" fill-rule="evenodd" d="M318.3 209.4 493.3 209.4 493.3 18.1 346.6 18.1 345.5 20.5 345.3 22.0 345.5 23.0 342.4 26.9 340.5 35.7 338.2 44.8 337.8 47.2 337.1 53.7 334.9 64.9 329.2 87.9 319.2 142.1 318.3 145.0Z"/>
<path fill="#60ff00" fill-rule="evenodd" d="M318.3 209.4 493.3 209.4 493.3 18.1 346.8 18.1 345.6 21.0 345.6 22.0 347.5 23.5 348.2 24.4 344.3 29.0 343.9 29.8 342.4 36.6 337.9 53.7 335.3 66.9 330.8 84.5 327.4 102.0 320.2 142.1 319.3 145.5 318.3 148.6Z"/>
<path fill="#70ff00" fill-rule="evenodd" d="M318.3 209.4 493.3 209.4 493.3 18.1 347.2 18.1 346 20.8 346 21.7 348.7 23.5 349.9 24.1 351 24.9 351.2 25.4 351.1 25.9 345.5 32.3 342.6 44.0 338.9 53.7 337.8 58.0 335.8 67.9 332.2 82.5 327.4 107.0 322.5 133.8 321.2 142.1 320.1 146.4 318.3 152.1Z"/>
<path fill="#80ff00" fill-rule="evenodd" d="M318.3 209.4 493.3 209.4 493.3 18.1 397.9 18.1 395.8 18.7 395.4 19.1 394.1 19.2 391 20.5 390.2 20.7 389.7 21.0 388.9 21.2 388.4 21.5 387.6 21.7 387.1 22.0 386.3 22.2 385.8 22.5 385 22.7 384.5 23.0 383.3 23.1 380.2 24.4 379.4 24.6 378.9 24.9 378.1 25.1 377.6 25.4 376.8 25.6 376.3 25.9 375.5 26.1 375 26.4 374.2 26.6 373.7 26.9 372.4 27.0 369.4 28.3 368.5 28.5 368.1 28.8 367.2 29.0 366.8 29.3 365.9 29.5 365.5 29.8 364.6 30.0 364.2 30.3 362.9 30.5 362.4 30.8 358.2 32.3 353.4 27.6 353 27.3 352.5 27.4 347 35.2 345.2 40.5 339.8 53.7 337.8 61.8 336.4 68.9 333.6 80.1 327.4 112.0 323.8 131.8 322.1 142.1 320.9 147.4 318.3 155.7Z"/>
<path fill="#8fff00" fill-rule="evenodd" d="M318.3 209.4 493.3 209.4 493.3 18.1 398.3 18.1 395 19.4 394.1 19.5 384.6 23.1 383.3 23.4 373.7 27.0 372.4 27.3 364.2 30.5 362.9 30.7 359 32.3 358.4 32.7 358.2 33.4 353.8 29.3 353.4 29.0 353 29.1 347.3 37.8 340.8 53.7 337.8 65.6 335.2 77.1 327.4 117.0 325.1 129.4 323 142.5 321.5 148.9 318.3 159.2Z"/>
<path fill="#9fff00" fill-rule="evenodd" d="M318.3 209.4 493.3 209.4 493.3 18.1 398.8 18.1 395 19.6 394.1 19.7 384.2 23.5 383.3 23.6 373.4 27.4 372.4 27.5 363.8 30.8 362.9 30.9 359 32.4 358.7 32.7 358.8 33.2 364.2 39.6 365.3 41.0 365.1 41.3 354.7 31.4 353.8 30.7 353.4 30.9 347.3 40.2 341.8 53.7 340.6 59.1 338.2 67.7 336.6 74.7 327.4 122.0 324 142.5 322.2 150.0 319.2 160.1 318.3 162.4ZM365.4 41.5 365.5 41.4 365.6 41.5 365.5 41.7Z"/>
<path fill="#afff00" fill-rule="evenodd" d="M318.3 209.4 493.3 209.4 493.3 18.1 399.1 18.1 395.4 19.6 394.1 19.8 384.6 23.5 383.3 23.7 373.7 27.4 372.4 27.6 364.2 30.8 362.9 31.0 360.3 32.0 358.9 32.7 359.4 33.7 368.5 44.3 372.1 48.8 372 49.2 355.1 33.0 354.3 32.4 353.8 32.7 347.3 42.6 342.8 53.7 341.3 60.5 338.3 71.3 331.5 105.9 330.5 111.8 327.9 124.5 325 142.5 322.9 151.3 319.8 161.6 318.3 165.6ZM372.2 49.3 372.5 49.3 372.4 49.5Z"/>
<path fill="#bfff00" fill-rule="evenodd" d="M318.3 209.4 493.3 209.4 493.3 18.1 399.3 18.1 395.4 19.7 394.1 19.9 384.6 23.6 383.3 23.8 373.7 27.5 372.4 27.7 364.2 30.9 362.9 31.1 359 32.7 359.2 33.2 376.3 53.2 379.1 56.7 378.9 57.1 355.6 34.7 354.7 34.2 354.3 34.4 347.8 44.2 343.7 53.7 342 61.5 339.4 71.3 337.4 80.9 332.4 106.4 331.3 113.0 328.9 124.5 325.9 142.5 323.5 152.8 320.4 163.0 318.3 168.7ZM379.5 57.6 379.8 57.5 379.8 57.9ZM379 57.1 379.4 57.0 379.4 57.5Z"/>
<path fill="#cfff00" fill-rule="evenodd" d="M318.3 209.4 493.3 209.4 493.3 18.1 399.4 18.1 395.4 19.8 394.1 20.0 384.6 23.7 383.3 23.9 373.7 27.6 372.4 27.8 364.2 31.0 362.9 31.2 360.3 32.2 359.2 32.7 359.3 33.2 382.8 60.5 383.7 61.3 384.2 61.5 386.7 64.5 389.5 67.9 389.3 68.3 356 36.4 355.1 35.9 354.7 36.2 347.8 46.5 344.7 53.7 342.8 62.5 340.4 71.3 337.4 85.9 333.3 106.4 332.1 114.2 329.9 124.5 326.9 142.5 324 154.7 321 164.5 318.3 171.8ZM390 68.9 390.2 68.8 390.2 69.1ZM389.4 68.4 389.8 68.2 389.8 68.7Z"/>
<path fill="#dfff00" fill-rule="evenodd" d="M318.3 209.4 493.3 209.4 493.3 18.1 399.6 18.1 399.3 18.4 395.4 19.9 394.3 20.1 384.6 23.8 383.5 24.0 373.7 27.7 372.6 27.9 364.2 31.1 363.1 31.3 359.4 32.7 359.4 33.2 368.5 43.6 369.8 45.4 383 60.6 384.6 61.8 393.7 72.3 397.3 76.7 397.1 77.0 356 37.7 355.6 37.6 355.1 38.0 347.8 48.9 345.7 53.7 343.5 64.0 341.3 72.2 334.3 106.4 332.9 115.2 331 124.5 327.9 142.5 325.1 154.3 321.4 166.5 318.3 174.9ZM397.8 77.6 398 77.6 398 77.8ZM397.3 77.1 397.6 77.0 397.6 77.4Z"/>
<path fill="#efff00" fill-rule="evenodd" d="M318.3 209.4 493.3 209.4 493.3 18.1 399.7 18.1 399.3 18.5 395.4 20.0 394.5 20.1 384.6 23.9 383.7 24.0 373.7 27.8 372.9 27.9 359.8 32.7 359.6 33.2 368.6 43.5 369.6 44.9 383.2 60.6 384.6 61.6 401 80.6 404.6 85.0 404.5 85.4 356.9 39.7 356.4 39.4 356 39.4 355.6 39.8 347.8 51.3 346.7 53.7 344.2 64.9 342.4 71.8 337.4 95.8 335.3 106.4 333.6 117.2 332 125.0 329.2 142.1 325.8 155.7 322.2 167.3 318.3 178.3ZM405.2 85.9 405.4 85.9 405.4 86.1ZM404.6 85.4 404.9 85.3 404.9 85.7Z"/>
<path fill="#ffff00" fill-rule="evenodd" d="M318.3 209.4 489.7 209.4 490.9 208.4 493.3 207.8 493.3 18.1 399.9 18.1 399.3 18.8 395.4 20.2 394.1 20.5 384.6 24.2 383.3 24.4 373.7 28.1 372.4 28.3 364.2 31.5 362.9 31.7 360.2 32.7 359.8 33.2 368.8 43.5 369.7 44.9 383.3 60.5 384.6 61.5 409.3 89.8 412.4 93.7 412.3 94.1 357.7 41.8 356.9 41.1 356.4 41.1 349.1 51.8 347.8 54.1 347.3 55.4 344.9 66.4 343.5 71.8 336.4 105.5 334.4 118.1 333.1 124.5 331.3 135.1 330.4 142.1 328.3 149.5 326.1 158.2 323.1 167.9 319.8 177.2 318.3 183.3ZM412.5 94.2 412.8 94.2 412.7 94.4Z"/>
<path fill="#ffef00" fill-rule="evenodd" d="M318.3 209.4 485.6 209.4 487.9 207.4 493.3 206.0 493.3 18.1 400.2 18.1 400 18.6 399.7 18.9 398.4 19.5 397.8 19.6 395.8 20.4 393.5 21.0 385 24.3 382.6 24.9 374.2 28.2 371.8 28.8 364.6 31.7 362.3 32.3 360.7 32.8 360.3 33.2 369 43.1 369.8 44.9 383.3 60.4 384.7 61.5 415.8 97.1 417.5 98.5 423.3 105.5 423.1 105.7 358.2 43.4 357.3 42.8 356.9 42.9 355.2 45.4 347.8 58.7 344.6 71.3 341.2 88.9 337.2 106.4 335.2 119.3 332.7 132.8 331.6 142.1 326.7 159.6 323.6 169.4 320.8 177.7 318.3 188.3ZM423.4 105.9 423.6 105.9 423.6 106.1Z"/>
<path fill="#ffdf00" fill-rule="evenodd" d="M318.3 209.4 481.5 209.4 484.2 207.0 485.1 206.4 493.3 204.1 493.3 18.1 430.8 18.1 426.2 20.0 424.9 20.7 422.7 21.5 421.4 22.2 419.2 22.9 417.9 23.6 415.8 24.4 414.5 25.1 411 26.3 406.2 28.5 397.1 32.2 395.8 32.9 392.4 34.1 391.1 34.8 382 38.5 373.7 42.2 370.3 43.4 369.6 44.0 369.6 44.5 369.9 44.9 383.3 60.3 384.8 61.5 416 97.2 417.1 97.9 428.7 111.3 430.6 113.7 430.5 114.0 369 55.2 358.6 45.5 358.2 45.2 357.7 45.4 356.9 47.3 353.7 53.2 348.2 62.3 347.3 64.4 344.7 75.8 342.3 88.9 337.8 109.4 334.2 130.3 332.7 142.1 327.6 160.1 321.9 177.7 318.3 193.2ZM430.7 114.2 430.9 114.1 431 114.2 430.9 114.4Z"/>
<path fill="#ffcf00" fill-rule="evenodd" d="M318.3 209.4 477.5 209.4 482 205.4 493.3 202.3 493.3 18.1 431.6 18.1 429.6 18.8 428.3 19.6 426.2 20.3 424.9 21.0 422.7 21.7 421.4 22.5 419.2 23.2 417.9 24.0 415.8 24.7 414.5 25.4 411 26.6 409.7 27.4 407.5 28.1 406.2 28.8 404.1 29.5 402.8 30.3 400.6 31.0 399.3 31.8 397.1 32.5 395.8 33.2 392.4 34.4 391.1 35.2 388.9 35.9 387.6 36.7 385.4 37.4 384.1 38.1 382 38.8 380.7 39.6 378.5 40.3 377.2 41.0 375 41.7 373.7 42.5 370.3 43.7 369.8 44.0 369.7 44.5 370 44.9 376.5 52.3 377.5 53.7 383.3 60.2 384.9 61.5 416.2 97.2 417.5 98.1 436.6 120.1 438.5 122.5 438.3 122.7 388 74.7 359.9 48.4 359 47.8 358.6 47.9 356.4 53.2 347.8 67.7 346.7 71.3 343.4 88.9 340.7 101.1 339.8 106.9 337.8 115.6 335.6 128.4 333.9 142.1 329.1 159.6 327.8 162.9 323 177.7 320 191.3 319.4 196.2 319 197.2 318.3 197.9ZM438.6 123.0 438.7 122.9 438.8 123.0Z"/>
<path fill="#ffbf00" fill-rule="evenodd" d="M318.3 209.4 473.2 209.4 478.6 204.7 479.4 204.2 493.3 200.3 493.3 18.1 432 18.1 430.5 18.8 429.6 19.1 428.3 19.8 426.2 20.5 424.9 21.3 422.7 22.0 421.4 22.7 419.2 23.4 417.9 24.2 415.8 24.9 414.5 25.7 411 26.9 409.7 27.6 407.5 28.3 406.2 29.1 404.1 29.8 402.8 30.6 400.6 31.3 399.3 32.0 397.1 32.7 395.8 33.5 392.4 34.7 391.1 35.4 388.9 36.1 387.6 36.9 385.4 37.6 384.1 38.4 382 39.1 380.7 39.8 378.5 40.5 377.2 41.3 375 42.0 373.7 42.8 370.3 43.9 369.9 44.5 376.6 52.3 377.6 53.7 383.2 60.1 384.6 61.1 415.8 96.7 417.5 98.0 445.2 129.9 445.9 130.8 445.6 131.1 402.3 89.8 360.7 51.0 359.9 50.3 359.5 50.4 357.9 55.2 356.4 57.3 348.4 70.8 347.3 74.2 344.6 88.9 342.6 97.9 341.4 106.9 338.2 119.8 337.3 124.5 335.1 142.1 332.3 152.3 330.6 159.6 327.8 166.2 324 177.7 321.6 188.9 321.2 195.2 320.8 198.2 320.5 199.2 318.3 201.9ZM450.4 135.6 449.5 134.7 450 134.7 450.4 135.2ZM445.9 131.3 446.1 131.1 446.3 131.3 446.1 131.5Z"/>
<path fill="#ffaf00" fill-rule="evenodd" d="M318.3 209.4 467.1 209.4 473.4 205.6 475.9 203.5 476.8 203.1 493.3 198.3 493.3 18.1 432.2 18.1 431.8 18.6 429.6 19.4 428.3 20.1 426.2 20.9 414.5 25.9 411 27.2 409.7 27.9 397.1 33.1 395.8 33.8 392.4 35.0 391.1 35.7 388.9 36.5 387.6 37.2 385.4 37.9 384.1 38.6 370.2 44.5 370.4 44.9 376.8 52.2 378.1 54.1 383.4 60.1 385 61.4 416.2 96.9 417.7 98.1 448.9 133.8 450.4 134.7 457.8 143.5 457.8 143.8 456.5 142.8 429.6 117.1 362 53.9 360.7 52.9 360.3 52.9 359.8 54.2 359.4 57.1 356.9 60.4 350.7 70.8 350.4 71.8 349.9 75.8 347.8 79.1 347.3 80.4 344.5 94.7 342.9 106.9 339 123.5 338.7 126.4 337.8 130.5 336.3 142.1 334.7 147.9 332 159.6 328.3 168.3 325.1 177.7 323.3 186.5 322.9 195.2 322.2 200.6 321.7 201.6 318.3 205.9Z"/>
<path fill="#ff9f00" fill-rule="evenodd" d="M318.9 209.4 461 209.4 473.8 201.6 480 200.1 493.3 196.4 493.3 18.1 448.9 18.1 447.2 19.1 446.5 19.2 444.2 20.5 443.5 20.7 442 21.5 441.3 21.6 439 23.0 438.3 23.1 435.9 24.4 435.3 24.6 433.8 25.4 433.1 25.5 430.7 26.9 430.1 27.0 427.7 28.3 427 28.5 425.5 29.3 424.9 29.4 419.5 32.3 418.8 32.4 416.4 33.7 415.8 33.8 414.3 34.7 413.6 34.8 408.2 37.6 407.5 37.7 406.1 38.6 405.4 38.7 400 41.5 399.3 41.6 397.8 42.5 397.1 42.6 391.8 45.4 391.1 45.5 389.6 46.4 388.9 46.5 383.5 49.3 382.8 49.4 380.5 50.8 379.8 50.9 378.3 51.8 377.6 51.9 377.3 52.3 377.3 52.7 377.6 53.4 383.3 59.8 385 61.3 416.1 96.7 417.8 98.1 449.1 133.7 450 134.2 461.2 146.9 465.2 151.8 465.1 152.3 400.6 91.8 368.1 61.9 362.5 56.3 361.6 55.7 361.3 56.2 361.1 58.6 360.7 59.5 357.3 63.6 353 70.8 352.7 71.8 352.1 78.1 351.8 79.6 348.2 84.6 347.3 86.7 346.3 91.8 344.5 106.4 342.1 116.4 340.7 124.0 340.3 129.9 338.2 138.3 337.6 142.1 333.6 159.1 327.8 172.8 326.2 177.7 325.5 181.1 325.1 184.0 324.6 195.2 323.7 202.6 323.3 203.5ZM465.2 152.3 465.6 152.3 465.6 152.5Z"/>
<path fill="#ff8f00" fill-rule="evenodd" d="M321.9 209.4 454.8 209.4 466.4 200.5 467.8 199.6 473.8 197.1 482.6 195.2 493.3 191.7 493.3 18.1 450.3 18.1 449.5 18.3 447.4 19.6 446.5 19.8 444.3 21.1 443.5 21.3 442.2 22.0 441.3 22.2 439.2 23.5 438.3 23.7 436.1 25.0 435.3 25.2 434 25.9 433.1 26.2 427.9 28.9 427 29.1 425.7 29.9 424.9 30.1 422.7 31.3 421.8 31.5 416.6 34.2 415.8 34.4 414.5 35.2 413.6 35.4 408.4 38.1 407.5 38.4 406.2 39.1 405.4 39.3 400.2 42.1 399.3 42.3 398 43.0 397.1 43.2 391.9 46.0 391.1 46.2 389.8 46.9 388.9 47.1 386.7 48.4 385.9 48.6 383.7 49.9 382.8 50.1 380.7 51.3 379.8 51.5 378.5 52.3 377.6 52.5 377.5 52.7 377.6 53.2 383.6 60.1 385 61.1 416.2 96.7 417.9 98.1 449.1 133.5 450 134.0 450.8 134.7 460.7 146.0 471.6 158.7 472.7 159.6 475 162.5 474.7 162.8 448.7 139.2 388.9 86.8 382.8 80.6 363.8 60.0 362.9 59.4 362.3 61.5 357.3 67.5 355 71.3 353.8 82.9 349.6 88.9 347.8 94.2 347.3 96.3 346 106.4 344.7 112.3 342.5 124.0 342.2 131.8 342 133.3 339.3 144.5 337.8 147.6 335 159.6 328.7 174.0 327.3 177.7 326.9 180.6 326.4 195.2 325.2 204.5 324.8 205.5ZM485.8 174.3 485.9 174.1 486 174.3ZM485.7 173.8 485.5 174.0 482.9 171.4 482.6 170.8 482.9 170.5 483.5 170.8Z"/>
<path fill="#ff8000" fill-rule="evenodd" d="M364.2 63.0 358.9 69.3 357.6 71.3 357.3 72.6 355.8 86.4 354 89.3 351.8 97.2 348.2 105.4 347.3 108.1 344.3 124.5 343.8 135.7 342.3 142.1 341.2 147.9 337.8 154.2 336.3 160.1 331.3 171.6 329.1 177.7 328.2 195.2 326.5 206.9 325 209.4 446.7 209.4 461.2 198.1 467.4 195.2 473.8 190.5 483.6 186.9 484.1 186.5 483.9 186.0 480.9 181.6 479.7 180.1 475.5 176.0 472.9 167.9 471.9 166.5 410.6 112.5 402.3 104.0 364.6 63.2ZM472.1 158.4 472.5 158.2 472.8 157.7 481.9 126.9 483.1 122.5 483.2 121.1 483.9 119.1 484.1 117.7 484.8 115.7 485 114.2 485.6 112.3 485.8 110.8 486.5 108.9 486.7 107.4 487.4 105.5 487.6 104.0 488.2 102.0 488.9 98.6 489.5 96.7 489.7 95.2 490.4 93.3 490.6 91.8 491.3 89.8 491.5 88.4 492.1 86.4 492.3 85.0 493 83.0 493.3 81.5 493.3 18.1 450.8 18.1 450.4 18.5 446.5 20.3 444.3 21.5 441.3 22.7 436.1 25.4 433.1 26.6 416.6 34.6 413.6 35.9 408.4 38.5 405.4 39.8 400.2 42.4 397.1 43.7 391.9 46.4 388.9 47.6 380.7 51.7 378.1 52.8 377.9 53.2 383.5 59.6 385.2 61.0 387.4 63.5 388.5 65.1 416.2 96.5 417.9 98.0 449.1 133.3 450.6 134.2Z"/>
<path fill="#ff7000" fill-rule="evenodd" d="M438.4 209.4 455.2 196.2 457.6 194.8 468 186.9 468.3 186.5 468.2 186.0 465.6 177.7 460.8 165.0 459.8 163.0 458.5 161.6 435.3 141.1 430.1 136.1 390.2 93.3 369 71.4 367.2 69.9 366.8 70.5 365.5 77.1 365.1 78.6 361 87.9 357.3 94.3 354.7 103.1 353 106.9 348.2 115.6 347.3 118.0 346.1 124.5 345.5 138.6 343 151.3 337.8 160.7 331.8 177.7 330.8 195.2 328 209.4ZM460.4 144.8 460.8 144.5 493.3 53.4 493.3 18.1 467.7 18.1 459.5 22.7 457.8 24.0 438.3 34.9 436.6 36.2 417.1 47.1 415.4 48.4 395.8 59.3 394.2 60.6 388.2 64.0 388.3 64.5 388.9 65.4 416.2 96.4 417.9 97.8 449.5 133.4 450.4 133.8 459.5 144.1Z"/>
<path fill="#ff6000" fill-rule="evenodd" d="M429.9 209.4 447.3 195.7 450.4 192.8 457.9 186.9 458.1 186.5 458.1 186.0 454.9 176.2 446.8 160.1 445.9 157.2 418.4 129.6 375 85.2 373.7 84.1 373.3 84.3 372.5 85.9 360.2 105.9 357.9 108.4 356.9 109.8 348.9 124.5 348.5 126.4 347.3 141.6 344.9 154.7 341.9 160.1 337.8 168.4 334.6 177.7 333.6 195.2 331.9 204.0 332.4 209.4ZM449.5 133.0 450 133.1 450.3 132.8 454.6 123.0 455.2 121.1 460.6 108.9 460.8 107.9 466.3 95.7 466.5 94.7 471.9 82.5 472.1 81.5 477.5 69.3 477.7 68.4 483.2 56.2 483.4 55.2 493.3 32.5 493.3 18.1 468.9 18.1 468.2 18.9 460 23.5 458.2 24.8 438.8 35.7 437 37.0 417.5 47.9 415.8 49.2 396.3 60.1 394.5 61.4 389 64.5 389.3 65.2 399.9 77.1 401.5 79.5 416.2 96.2 417.9 97.6 438.2 120.6 439.6 121.8Z"/>
<path fill="#ff5000" fill-rule="evenodd" d="M421.4 209.4 439.4 195.2 443.5 190.9 447.7 187.4 448.4 186.5 446.2 177.7 441.3 167.3 440.1 158.6 435.3 154.1 432.4 151.8 420.5 144.0 419.6 143.0 417.1 139.1 409.6 132.8 397.5 121.6 390.2 112.1 384.6 103.5 375.9 97.7 375.5 97.8 370 106.4 362.7 112.8 357.3 119.1 354.3 124.5 352.4 133.3 351.4 142.5 350.2 146.9 347.8 153.9 346.8 158.2 338.2 175.2 337.3 177.7 336.3 194.8 335.8 198.7 337 209.4Z"/>
<path fill="#ff4000" fill-rule="evenodd" d="M345.3 209.4 409.2 209.4 414.5 208.0 415.8 207.5 431.7 195.2 432.6 193.8 434.8 191.0 438.8 186.9 439 186.5 437.2 178.2 436.1 175.2 434.4 161.6 434 160.0 433.1 159.1 426.9 154.3 415.3 146.8 409.8 141.6 396.3 129.6 392.4 128.3 391.8 127.9 382 111.3 381.1 110.7 376.8 109.6 375.9 110.0 367.9 116.7 361.6 124.0 359.8 126.4 357.3 135.9 355.9 143.0 353.3 152.3 351 158.6 350.4 160.1 347.3 164.9 341.2 177.2 340.9 178.2 340 190.4 340.3 194.8 343.9 204.0Z"/>
<path fill="#ff3000" fill-rule="evenodd" d="M353.9 209.4 367.1 209.4 368.6 208.9 376.8 207.1 396.7 207.3 411.3 204.0 415.8 202.5 424.7 195.7 425.5 194.8 427 191.6 430.3 187.4 430.8 186.5 429.8 180.1 429.7 177.2 428.2 166.5 425.5 160.1 424.5 159.1 421.4 156.7 415.3 152.8 409.3 147.2 404.1 142.1 396.3 135.1 395.4 134.7 387.3 132.3 379.3 119.1 378.5 118.3 377.2 117.9 376.3 118.0 372.6 121.1 369.7 124.5 364.9 131.3 362.1 142.1 361.1 145.0 357.3 154.7 355.7 159.6 347.8 172.0 344.9 177.7 344.6 183.5 345.9 195.2 347.8 199.8 350.4 204.8Z"/>
<path fill="#ff2000" fill-rule="evenodd" d="M415.8 197.6 418.7 195.2 421.4 189.4 422.9 187.4 423.4 186.5 422.9 183.0 422.9 177.2 422.1 171.8 416.9 160.1 405.7 149.9 398.4 142.5 396.3 140.7 395.4 140.3 382.8 136.6 382.1 135.7 377.2 127.7 376.8 127.2 376.3 127.3 369.9 136.2 368.4 142.1 365.8 150.3 361.7 160.1 357.3 167.2 350.6 176.7 350.2 177.7 350.6 183.5 352.2 194.8 352.5 195.7 354.3 199.1 357.3 202.7 364.2 204.1 376.8 201.4 381.1 201.9 395.8 201.8 397.1 202.3 398 202.4 407.1 200.3Z"/>
<path fill="#ff1000" fill-rule="evenodd" d="M414 192.9 414.5 192.3 416.1 186.5 416 177.2 412.1 166.0 409.9 161.6 408 158.2 407.2 157.2 397.1 147.6 395.8 147.1 390.2 145.4 383.4 142.5 378.5 141.0 377.9 140.6 376.8 139.1 376.3 139.1 375 141.1 370.5 155.2 368.6 160.1 359.4 174.7 358.2 177.2 358.1 179.1 360.1 192.8 361.2 193.3 375 195.7 377.2 195.8 383.7 196.6 395.8 196.5 398.4 197.5 403.6 196.4 410.1 194.4Z"/>
<path fill="#ff0000" fill-rule="evenodd" d="M411.4 187.5 411.4 186.2 411.2 185.5 411 183.0 410.7 181.6 410.6 178.2 402.8 162.5 398.6 155.2 398 154.8 395.4 154.0 382.8 150.5 381.1 150.2 379.8 151.1 379.2 151.8 377.9 154.3 375.6 159.1 374.9 161.1 372.5 179.6 372.5 181.1 385.4 190.7 386.7 191.3 399.3 192.5 401.9 191.1Z"/>
<path fill="#ff0000" fill-rule="evenodd" d="M397.6 184.7 398.3 184.0 402.9 178.2 402.9 177.7 399.5 170.8 396.5 168.4 396.2 167.9 396.4 166.9 398.4 161.6 398.3 160.6 397.2 158.6 396.7 158.1 391.9 156.7 390.2 156.6 384.6 159.6 383.5 160.6 381.5 163.4 377.2 173.3 376.8 175.4 376.6 177.7 377.2 178.2 378.1 178.5 388.7 179.6 389.3 180.2 391.5 184.0 392.8 184.3Z"/>
</g>
<path fill="#fff" d="M337.7 17.3 L352.3 34.0 L353.3 37.1 L356.5 47.7 L359.6 57.2 L362.8 65.8 L366.0 73.6 L369.1 80.7 L372.3 87.1 L375.5 93.1 L378.6 98.5 L381.8 103.6 L385.0 108.3 L388.1 112.6 L391.3 116.6 L394.5 120.4 L397.6 123.9 L400.8 127.3 L404.0 130.4 L407.1 133.3 L410.3 136.1 L413.5 138.7 L416.6 141.2 L419.8 143.5 L422.9 145.7 L426.1 147.8 L429.3 149.8 L432.4 151.8 L435.6 153.6 L438.8 155.3 L441.9 157.0 L445.1 158.6 L448.3 160.1 L451.4 161.6 L454.6 163.0 L457.8 164.3 L460.9 165.6 L464.1 166.9 L467.3 168.1 L470.4 169.2 L473.6 170.3 L476.8 171.4 L478.1 172.9 L494.1 188.1 L494.1 17.3 Z"/>
<path d="M36.3 13.0 H238.2 V209.1" fill="none" stroke="#555" stroke-width="1.0"/>
<path d="M36.3 13.0 V209.7" fill="none" stroke="#2a2a2a" stroke-width="1.1"/>
<path d="M36.3 209.4 H238.7" fill="none" stroke="#2c2626" stroke-width="0.9"/>
<path d="M36.3 194.6 h-3.4" stroke="#333" stroke-width="0.8"/>
<text x="30.0" y="197.3" text-anchor="end" font-size="8.5" fill="#262626" font-family="Liberation Sans, Arial, sans-serif" textLength="9.0" lengthAdjust="spacingAndGlyphs" stroke="#262626" stroke-width="0.15">50</text>
<path d="M36.3 176.4 h-1.9" stroke="#333" stroke-width="0.8"/>
<path d="M36.3 158.3 h-3.4" stroke="#333" stroke-width="0.8"/>
<text x="30.0" y="161.0" text-anchor="end" font-size="8.5" fill="#262626" font-family="Liberation Sans, Arial, sans-serif" textLength="13.5" lengthAdjust="spacingAndGlyphs" stroke="#262626" stroke-width="0.15">100</text>
<path d="M36.3 140.1 h-1.9" stroke="#333" stroke-width="0.8"/>
<path d="M36.3 122.0 h-3.4" stroke="#333" stroke-width="0.8"/>
<text x="30.0" y="124.7" text-anchor="end" font-size="8.5" fill="#262626" font-family="Liberation Sans, Arial, sans-serif" textLength="13.5" lengthAdjust="spacingAndGlyphs" stroke="#262626" stroke-width="0.15">150</text>
<path d="M36.3 103.8 h-1.9" stroke="#333" stroke-width="0.8"/>
<path d="M36.3 85.6 h-3.4" stroke="#333" stroke-width="0.8"/>
<text x="30.0" y="88.3" text-anchor="end" font-size="8.5" fill="#262626" font-family="Liberation Sans, Arial, sans-serif" textLength="13.5" lengthAdjust="spacingAndGlyphs" stroke="#262626" stroke-width="0.15">200</text>
<path d="M36.3 67.5 h-1.9" stroke="#333" stroke-width="0.8"/>
<path d="M36.3 49.3 h-3.4" stroke="#333" stroke-width="0.8"/>
<text x="30.0" y="52.0" text-anchor="end" font-size="8.5" fill="#262626" font-family="Liberation Sans, Arial, sans-serif" textLength="13.5" lengthAdjust="spacingAndGlyphs" stroke="#262626" stroke-width="0.15">250</text>
<path d="M36.3 31.2 h-1.9" stroke="#333" stroke-width="0.8"/>
<path d="M36.3 13.0 h-3.4" stroke="#333" stroke-width="0.8"/>
<text x="30.0" y="15.7" text-anchor="end" font-size="8.5" fill="#262626" font-family="Liberation Sans, Arial, sans-serif" textLength="13.5" lengthAdjust="spacingAndGlyphs" stroke="#262626" stroke-width="0.15">300</text>
<path d="M36.3 209.1 v1.9" stroke="#333" stroke-width="0.8"/>
<path d="M58.7 209.1 v3.4" stroke="#333" stroke-width="0.8"/>
<text x="58.8" y="222.5" text-anchor="middle" font-size="8.4" fill="#262626" font-family="Liberation Sans, Arial, sans-serif" textLength="17.7" lengthAdjust="spacingAndGlyphs" stroke="#262626" stroke-width="0.15">2000</text>
<path d="M81.2 209.1 v1.9" stroke="#333" stroke-width="0.8"/>
<path d="M103.6 209.1 v3.4" stroke="#333" stroke-width="0.8"/>
<text x="103.7" y="222.5" text-anchor="middle" font-size="8.4" fill="#262626" font-family="Liberation Sans, Arial, sans-serif" textLength="17.7" lengthAdjust="spacingAndGlyphs" stroke="#262626" stroke-width="0.15">4000</text>
<path d="M126.0 209.1 v1.9" stroke="#333" stroke-width="0.8"/>
<path d="M148.5 209.1 v3.4" stroke="#333" stroke-width="0.8"/>
<text x="148.6" y="222.5" text-anchor="middle" font-size="8.4" fill="#262626" font-family="Liberation Sans, Arial, sans-serif" textLength="17.7" lengthAdjust="spacingAndGlyphs" stroke="#262626" stroke-width="0.15">6000</text>
<path d="M170.9 209.1 v1.9" stroke="#333" stroke-width="0.8"/>
<path d="M193.3 209.1 v3.4" stroke="#333" stroke-width="0.8"/>
<text x="193.4" y="222.5" text-anchor="middle" font-size="8.4" fill="#262626" font-family="Liberation Sans, Arial, sans-serif" textLength="17.7" lengthAdjust="spacingAndGlyphs" stroke="#262626" stroke-width="0.15">8000</text>
<path d="M215.8 209.1 v1.9" stroke="#333" stroke-width="0.8"/>
<path d="M238.2 209.1 v3.4" stroke="#333" stroke-width="0.8"/>
<text x="238.6" y="222.2" text-anchor="middle" font-size="6.6" fill="#262626" font-family="Liberation Sans, Arial, sans-serif" textLength="20.0" lengthAdjust="spacingAndGlyphs" stroke="#262626" stroke-width="0.15">10,000</text>
<path d="M318.3 18.1 H493.3 V209.4" fill="none" stroke="#8c8c8c" stroke-width="1.5"/>
<path d="M318.3 18.1 V210.0" fill="none" stroke="#4a4a4a" stroke-width="1.1"/>
<path d="M318.3 209.7 H493.8" fill="none" stroke="#2c2626" stroke-width="0.9"/>
<path d="M318.3 195.2 h-3.4" stroke="#555" stroke-width="0.7"/>
<text x="313.2" y="197.7" text-anchor="end" font-size="7.8" fill="#262626" font-family="Liberation Sans, Arial, sans-serif" textLength="8.1" lengthAdjust="spacingAndGlyphs" stroke="#262626" stroke-width="0.15">50</text>
<path d="M318.3 177.5 h-1.9" stroke="#555" stroke-width="0.7"/>
<path d="M318.3 159.8 h-3.4" stroke="#555" stroke-width="0.7"/>
<text x="313.2" y="162.3" text-anchor="end" font-size="7.8" fill="#262626" font-family="Liberation Sans, Arial, sans-serif" textLength="12.1" lengthAdjust="spacingAndGlyphs" stroke="#262626" stroke-width="0.15">100</text>
<path d="M318.3 142.1 h-1.9" stroke="#555" stroke-width="0.7"/>
<path d="M318.3 124.4 h-3.4" stroke="#555" stroke-width="0.7"/>
<text x="313.2" y="126.9" text-anchor="end" font-size="7.8" fill="#262626" font-family="Liberation Sans, Arial, sans-serif" textLength="12.1" lengthAdjust="spacingAndGlyphs" stroke="#262626" stroke-width="0.15">150</text>
<path d="M318.3 106.7 h-1.9" stroke="#555" stroke-width="0.7"/>
<path d="M318.3 89.0 h-3.4" stroke="#555" stroke-width="0.7"/>
<text x="313.2" y="91.5" text-anchor="end" font-size="7.8" fill="#262626" font-family="Liberation Sans, Arial, sans-serif" textLength="12.1" lengthAdjust="spacingAndGlyphs" stroke="#262626" stroke-width="0.15">200</text>
<path d="M318.3 71.2 h-1.9" stroke="#555" stroke-width="0.7"/>
<path d="M318.3 53.5 h-3.4" stroke="#555" stroke-width="0.7"/>
<text x="313.2" y="56.0" text-anchor="end" font-size="7.8" fill="#262626" font-family="Liberation Sans, Arial, sans-serif" textLength="12.1" lengthAdjust="spacingAndGlyphs" stroke="#262626" stroke-width="0.15">250</text>
<path d="M318.3 35.8 h-1.9" stroke="#555" stroke-width="0.7"/>
<path d="M318.3 18.1 h-3.4" stroke="#555" stroke-width="0.7"/>
<text x="313.2" y="20.6" text-anchor="end" font-size="7.8" fill="#262626" font-family="Liberation Sans, Arial, sans-serif" textLength="12.1" lengthAdjust="spacingAndGlyphs" stroke="#262626" stroke-width="0.15">300</text>
<path d="M318.3 209.4 v1.9" stroke="#555" stroke-width="0.7"/>
<path d="M337.7 209.4 v3.4" stroke="#555" stroke-width="0.7"/>
<text x="337.7" y="222.5" text-anchor="middle" font-size="7.6" fill="#262626" font-family="Liberation Sans, Arial, sans-serif" textLength="16.0" lengthAdjust="spacingAndGlyphs" stroke="#262626" stroke-width="0.15">2000</text>
<path d="M357.2 209.4 v1.9" stroke="#555" stroke-width="0.7"/>
<path d="M376.6 209.4 v3.4" stroke="#555" stroke-width="0.7"/>
<text x="376.6" y="222.5" text-anchor="middle" font-size="7.6" fill="#262626" font-family="Liberation Sans, Arial, sans-serif" textLength="16.0" lengthAdjust="spacingAndGlyphs" stroke="#262626" stroke-width="0.15">4000</text>
<path d="M396.1 209.4 v1.9" stroke="#555" stroke-width="0.7"/>
<path d="M415.5 209.4 v3.4" stroke="#555" stroke-width="0.7"/>
<text x="415.5" y="222.5" text-anchor="middle" font-size="7.6" fill="#262626" font-family="Liberation Sans, Arial, sans-serif" textLength="16.0" lengthAdjust="spacingAndGlyphs" stroke="#262626" stroke-width="0.15">6000</text>
<path d="M435.0 209.4 v1.9" stroke="#555" stroke-width="0.7"/>
<path d="M454.4 209.4 v3.4" stroke="#555" stroke-width="0.7"/>
<text x="454.4" y="222.5" text-anchor="middle" font-size="7.6" fill="#262626" font-family="Liberation Sans, Arial, sans-serif" textLength="16.0" lengthAdjust="spacingAndGlyphs" stroke="#262626" stroke-width="0.15">8000</text>
<path d="M473.9 209.4 v1.9" stroke="#555" stroke-width="0.7"/>
<path d="M493.3 209.4 v3.4" stroke="#555" stroke-width="0.7"/>
<text x="492.7" y="222.5" text-anchor="middle" font-size="7.6" fill="#262626" font-family="Liberation Sans, Arial, sans-serif" textLength="21.8" lengthAdjust="spacingAndGlyphs" stroke="#262626" stroke-width="0.15">10,000</text>
<text x="137.2" y="238.0" text-anchor="middle" font-size="10" fill="#262626" font-family="Liberation Sans, Arial, sans-serif" textLength="21.6" lengthAdjust="spacingAndGlyphs" stroke="#262626" stroke-width="0.15">RPM</text>
<g transform="translate(12.1 110.65) rotate(-90)"><text x="0.0" y="0.0" text-anchor="middle" font-size="9.2" fill="#262626" font-family="Liberation Sans, Arial, sans-serif" textLength="54.3" lengthAdjust="spacingAndGlyphs" font-weight="bold">Torque [Nm]</text></g>
<text x="405.9" y="237.4" text-anchor="middle" font-size="8.7" fill="#262626" font-family="Liberation Sans, Arial, sans-serif" textLength="19.0" lengthAdjust="spacingAndGlyphs" stroke="#262626" stroke-width="0.15">RPM</text>
<g transform="translate(297.5 113.2) rotate(-90)"><text x="0.0" y="0.0" text-anchor="middle" font-size="9.1" fill="#262626" font-family="Liberation Sans, Arial, sans-serif" textLength="54.4" lengthAdjust="spacingAndGlyphs" font-weight="bold">Torque [Nm]</text></g>
<rect x="496.0" y="18.20" width="21.0" height="191.30" fill="#ff0000"/>
<rect x="496.0" y="21.70" width="21.0" height="187.80" fill="#ff0000"/>
<rect x="496.0" y="24.56" width="21.0" height="184.94" fill="#ff1000"/>
<rect x="496.0" y="27.42" width="21.0" height="182.08" fill="#ff2000"/>
<rect x="496.0" y="30.27" width="21.0" height="179.23" fill="#ff3000"/>
<rect x="496.0" y="33.13" width="21.0" height="176.37" fill="#ff4000"/>
<rect x="496.0" y="35.99" width="21.0" height="173.51" fill="#ff5000"/>
<rect x="496.0" y="38.85" width="21.0" height="170.65" fill="#ff6000"/>
<rect x="496.0" y="41.70" width="21.0" height="167.80" fill="#ff7000"/>
<rect x="496.0" y="44.56" width="21.0" height="164.94" fill="#ff8000"/>
<rect x="496.0" y="47.42" width="21.0" height="162.08" fill="#ff8f00"/>
<rect x="496.0" y="50.28" width="21.0" height="159.22" fill="#ff9f00"/>
<rect x="496.0" y="53.14" width="21.0" height="156.36" fill="#ffaf00"/>
<rect x="496.0" y="55.99" width="21.0" height="153.51" fill="#ffbf00"/>
<rect x="496.0" y="58.85" width="21.0" height="150.65" fill="#ffcf00"/>
<rect x="496.0" y="61.71" width="21.0" height="147.79" fill="#ffdf00"/>
<rect x="496.0" y="64.57" width="21.0" height="144.93" fill="#ffef00"/>
<rect x="496.0" y="67.42" width="21.0" height="142.07" fill="#ffff00"/>
<rect x="496.0" y="70.28" width="21.0" height="139.22" fill="#efff00"/>
<rect x="496.0" y="73.14" width="21.0" height="136.36" fill="#dfff00"/>
<rect x="496.0" y="76.00" width="21.0" height="133.50" fill="#cfff00"/>
<rect x="496.0" y="78.86" width="21.0" height="130.64" fill="#bfff00"/>
<rect x="496.0" y="81.71" width="21.0" height="127.79" fill="#afff00"/>
<rect x="496.0" y="84.57" width="21.0" height="124.93" fill="#9fff00"/>
<rect x="496.0" y="87.43" width="21.0" height="122.07" fill="#8fff00"/>
<rect x="496.0" y="90.29" width="21.0" height="119.21" fill="#80ff00"/>
<rect x="496.0" y="93.15" width="21.0" height="116.35" fill="#70ff00"/>
<rect x="496.0" y="96.00" width="21.0" height="113.50" fill="#60ff00"/>
<rect x="496.0" y="98.86" width="21.0" height="110.64" fill="#50ff00"/>
<rect x="496.0" y="101.72" width="21.0" height="107.78" fill="#40ff00"/>
<rect x="496.0" y="104.58" width="21.0" height="104.92" fill="#30ff00"/>
<rect x="496.0" y="107.43" width="21.0" height="102.07" fill="#20ff00"/>
<rect x="496.0" y="110.29" width="21.0" height="99.21" fill="#10ff00"/>
<rect x="496.0" y="113.15" width="21.0" height="96.35" fill="#00ff00"/>
<rect x="496.0" y="116.01" width="21.0" height="93.49" fill="#00ff10"/>
<rect x="496.0" y="118.87" width="21.0" height="90.63" fill="#00ff20"/>
<rect x="496.0" y="121.72" width="21.0" height="87.78" fill="#00ff30"/>
<rect x="496.0" y="124.58" width="21.0" height="84.92" fill="#00ff40"/>
<rect x="496.0" y="127.44" width="21.0" height="82.06" fill="#00ff50"/>
<rect x="496.0" y="130.30" width="21.0" height="79.20" fill="#00ff60"/>
<rect x="496.0" y="133.15" width="21.0" height="76.35" fill="#00ff70"/>
<rect x="496.0" y="136.01" width="21.0" height="73.49" fill="#00ff80"/>
<rect x="496.0" y="138.87" width="21.0" height="70.63" fill="#00ff8f"/>
<rect x="496.0" y="141.73" width="21.0" height="67.77" fill="#00ff9f"/>
<rect x="496.0" y="144.59" width="21.0" height="64.91" fill="#00ffaf"/>
<rect x="496.0" y="147.44" width="21.0" height="62.06" fill="#00ffbf"/>
<rect x="496.0" y="150.30" width="21.0" height="59.20" fill="#00ffcf"/>
<rect x="496.0" y="153.16" width="21.0" height="56.34" fill="#00ffdf"/>
<rect x="496.0" y="156.02" width="21.0" height="53.48" fill="#00ffef"/>
<rect x="496.0" y="158.88" width="21.0" height="50.62" fill="#00ffff"/>
<rect x="496.0" y="161.73" width="21.0" height="47.77" fill="#00efff"/>
<rect x="496.0" y="164.59" width="21.0" height="44.91" fill="#00dfff"/>
<rect x="496.0" y="167.45" width="21.0" height="42.05" fill="#00cfff"/>
<rect x="496.0" y="170.31" width="21.0" height="39.19" fill="#00bfff"/>
<rect x="496.0" y="173.16" width="21.0" height="36.34" fill="#00afff"/>
<rect x="496.0" y="176.02" width="21.0" height="33.48" fill="#009fff"/>
<rect x="496.0" y="178.88" width="21.0" height="30.62" fill="#008fff"/>
<rect x="496.0" y="181.74" width="21.0" height="27.76" fill="#0080ff"/>
<rect x="496.0" y="184.60" width="21.0" height="24.90" fill="#0070ff"/>
<rect x="496.0" y="187.45" width="21.0" height="22.05" fill="#0060ff"/>
<rect x="496.0" y="190.31" width="21.0" height="19.19" fill="#0050ff"/>
<rect x="496.0" y="193.17" width="21.0" height="16.33" fill="#0040ff"/>
<rect x="496.0" y="196.03" width="21.0" height="13.47" fill="#0030ff"/>
<rect x="496.0" y="198.88" width="21.0" height="10.62" fill="#0020ff"/>
<rect x="496.0" y="201.74" width="21.0" height="7.76" fill="#0010ff"/>
<rect x="496.0" y="204.60" width="21.0" height="4.90" fill="#0000ff"/>
<rect x="496.0" y="18.2" width="21.0" height="191.3" fill="none" stroke="#444" stroke-width="0.6"/>
<path d="M517.0 21.7 h2.8" stroke="#505050" stroke-width="0.9"/>
<text x="523.8" y="24.9" text-anchor="start" font-size="8.8" fill="#262626" font-family="Liberation Sans, Arial, sans-serif" textLength="21.6" lengthAdjust="spacingAndGlyphs" stroke="#262626" stroke-width="0.15">98.00</text>
<path d="M517.0 44.6 h2.8" stroke="#505050" stroke-width="0.9"/>
<text x="523.8" y="47.8" text-anchor="start" font-size="8.8" fill="#262626" font-family="Liberation Sans, Arial, sans-serif" textLength="21.6" lengthAdjust="spacingAndGlyphs" stroke="#262626" stroke-width="0.15">96.88</text>
<path d="M517.0 67.4 h2.8" stroke="#505050" stroke-width="0.9"/>
<text x="523.8" y="70.6" text-anchor="start" font-size="8.8" fill="#262626" font-family="Liberation Sans, Arial, sans-serif" textLength="21.6" lengthAdjust="spacingAndGlyphs" stroke="#262626" stroke-width="0.15">95.75</text>
<path d="M517.0 90.3 h2.8" stroke="#505050" stroke-width="0.9"/>
<text x="523.8" y="93.5" text-anchor="start" font-size="8.8" fill="#262626" font-family="Liberation Sans, Arial, sans-serif" textLength="21.6" lengthAdjust="spacingAndGlyphs" stroke="#262626" stroke-width="0.15">94.63</text>
<path d="M517.0 113.2 h2.8" stroke="#505050" stroke-width="0.9"/>
<text x="523.8" y="116.4" text-anchor="start" font-size="8.8" fill="#262626" font-family="Liberation Sans, Arial, sans-serif" textLength="21.6" lengthAdjust="spacingAndGlyphs" stroke="#262626" stroke-width="0.15">93.50</text>
<path d="M517.0 136.0 h2.8" stroke="#505050" stroke-width="0.9"/>
<text x="523.8" y="139.2" text-anchor="start" font-size="8.8" fill="#262626" font-family="Liberation Sans, Arial, sans-serif" textLength="21.6" lengthAdjust="spacingAndGlyphs" stroke="#262626" stroke-width="0.15">92.38</text>
<path d="M517.0 158.9 h2.8" stroke="#505050" stroke-width="0.9"/>
<text x="523.8" y="162.1" text-anchor="start" font-size="8.8" fill="#262626" font-family="Liberation Sans, Arial, sans-serif" textLength="21.6" lengthAdjust="spacingAndGlyphs" stroke="#262626" stroke-width="0.15">91.25</text>
<path d="M517.0 181.7 h2.8" stroke="#505050" stroke-width="0.9"/>
<text x="523.8" y="184.9" text-anchor="start" font-size="8.8" fill="#262626" font-family="Liberation Sans, Arial, sans-serif" textLength="21.6" lengthAdjust="spacingAndGlyphs" stroke="#262626" stroke-width="0.15">90.13</text>
<path d="M517.0 204.6 h2.8" stroke="#505050" stroke-width="0.9"/>
<text x="523.8" y="207.8" text-anchor="start" font-size="8.8" fill="#262626" font-family="Liberation Sans, Arial, sans-serif" textLength="21.6" lengthAdjust="spacingAndGlyphs" stroke="#262626" stroke-width="0.15">89.00</text>
<text x="506.6" y="11.5" text-anchor="middle" font-size="9.0" fill="#262626" font-family="Liberation Sans, Arial, sans-serif" textLength="52.0" lengthAdjust="spacingAndGlyphs" stroke="#262626" stroke-width="0.15">Efficiency [%]</text>
<text x="4.8" y="265" font-size="14.6" fill="#111" font-weight="bold" font-family="Liberation Serif, Times New Roman, serif">(a)</text>
<text x="383.8" y="265.2" font-size="15" fill="#111" textLength="18.6" font-family="Liberation Serif, Times New Roman, serif">(b)</text>
</svg>
</body></html>
